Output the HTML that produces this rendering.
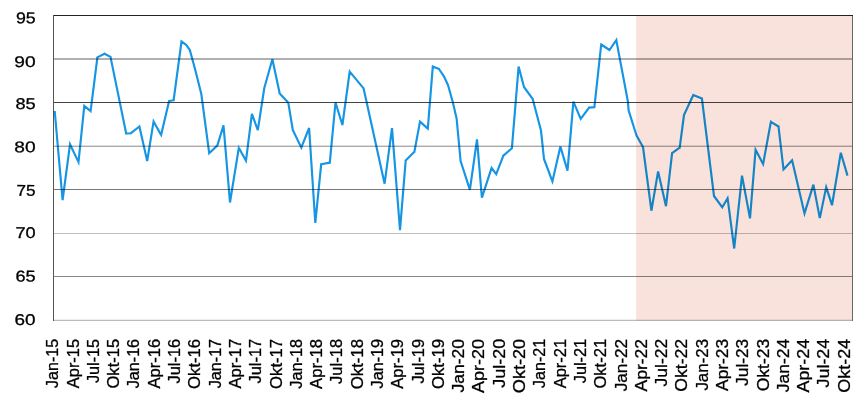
<!DOCTYPE html>
<html><head><meta charset="utf-8"><title>Chart</title>
<style>
html,body{margin:0;padding:0;background:#fff;}
body{width:866px;height:414px;overflow:hidden;font-family:"Liberation Sans",sans-serif;}
svg{display:block;}
text{font-family:"Liberation Sans",sans-serif;fill:#000;stroke:#000;stroke-width:0.3px;}
</style></head><body>
<svg width="866" height="414" viewBox="0 0 866 414">
<rect x="0" y="0" width="866" height="414" fill="#ffffff"/>
<g shape-rendering="crispEdges">
<rect x="53" y="15" width="800" height="1" fill="#222222"/>
<rect x="53" y="58" width="800" height="1" fill="#b0b0b0"/>
<rect x="53" y="59" width="800" height="1" fill="#b0b0b0"/>
<rect x="53" y="102" width="800" height="1" fill="#444444"/>
<rect x="53" y="145" width="800" height="1" fill="#dddddd"/>
<rect x="53" y="146" width="800" height="1" fill="#aaaaaa"/>
<rect x="53" y="189" width="800" height="1" fill="#777777"/>
<rect x="53" y="233" width="800" height="1" fill="#c0c0c0"/>
<rect x="53" y="276" width="800" height="1" fill="#888888"/>
<rect x="53" y="319" width="800" height="1" fill="#eeeeee"/>
<rect x="53" y="320" width="800" height="1" fill="#bbbbbb"/>
<rect x="53" y="15" width="1" height="306" fill="#555555"/>
<rect x="852" y="16" width="1" height="305" fill="#666666"/>
</g>
<path d="M54.7 111.0 L62.6 200.2 L70.0 144.3 L78.5 162.1 L84.3 105.9 L90.6 111.1 L97.4 57.4 L104.5 53.7 L110.5 56.9 L126.2 133.5 L130.6 133.3 L139.4 126.5 L147.2 161.0 L153.6 121.4 L161.1 134.9 L169.1 101.0 L173.6 100.3 L181.5 41.5 L186.2 44.8 L189.9 50.2 L195.3 70.0 L201.3 94.0 L209.2 153.2 L217.4 145.4 L223.5 125.4 L230.0 202.5 L238.8 147.8 L246.0 160.7 L251.9 113.8 L257.8 130.1 L264.3 88.0 L272.4 59.3 L279.7 93.5 L288.3 102.8 L292.8 130.0 L301.3 147.6 L309.1 128.0 L315.3 222.9 L321.2 164.2 L329.8 162.6 L335.5 102.5 L342.4 125.0 L349.7 71.6 L363.6 88.4 L384.6 183.7 L392.0 128.2 L400.0 230.1 L405.7 160.4 L414.4 151.8 L420.0 121.6 L427.8 128.6 L432.8 66.4 L439.0 69.0 L443.6 75.8 L448.0 85.0 L453.0 103.0 L456.6 118.5 L460.6 161.0 L469.9 189.9 L477.0 139.4 L481.9 197.7 L491.6 167.8 L496.2 174.1 L503.4 155.6 L511.9 148.2 L518.6 66.6 L524.0 87.0 L532.6 98.8 L541.0 130.6 L544.0 159.0 L552.4 181.4 L560.4 146.6 L567.5 170.6 L573.4 101.7 L580.7 118.9 L589.1 107.6 L594.4 107.1 L601.2 44.5 L609.5 50.0 L616.3 40.1 L627.9 101.5 L628.6 110.4 L636.5 135.5 L643.0 147.0 L651.4 210.7 L658.1 171.4 L666.0 206.2 L672.1 153.1 L679.7 147.6 L684.0 115.0 L693.3 95.0 L701.9 98.5 L714.0 196.0 L722.3 207.3 L727.6 198.2 L734.2 248.5 L742.0 175.6 L750.0 218.4 L755.6 149.7 L763.1 164.1 L770.9 121.8 L778.5 126.5 L783.5 169.4 L792.1 160.3 L804.5 213.4 L813.4 184.6 L819.8 218.1 L826.2 187.1 L832.0 205.2 L840.8 152.8 L847.5 175.6" fill="none" stroke="#1595e3" stroke-width="2.15" stroke-linejoin="bevel" stroke-linecap="butt" style="mix-blend-mode:multiply"/>
<path d="M70.02 144.28 L68.96 144.14 L69.43 140.54 L70.99 143.82ZM78.50 162.13 L77.53 162.59 L79.18 166.06 L79.57 162.24ZM84.26 105.91 L83.19 105.80 L83.39 103.81 L84.94 105.08ZM90.58 111.13 L89.89 111.96 L91.40 113.20 L91.64 111.26ZM97.41 57.38 L96.35 57.24 L96.42 56.68 L96.92 56.42ZM104.50 53.74 L104.01 52.78 L104.50 52.53 L105.00 52.78ZM110.51 56.87 L111.00 55.92 L111.46 56.15 L111.56 56.65ZM126.21 133.53 L125.15 133.75 L125.34 134.65 L126.25 134.61ZM130.58 133.35 L130.63 134.42 L130.97 134.41 L131.24 134.20ZM139.39 126.48 L138.73 125.63 L140.06 124.59 L140.44 126.24ZM153.58 121.37 L152.52 121.20 L153.01 118.14 L154.52 120.85ZM161.13 134.91 L160.20 135.44 L161.55 137.86 L162.18 135.16ZM169.05 100.97 L168.01 100.72 L168.17 100.01 L168.90 99.90ZM173.61 100.31 L173.76 101.37 L174.56 101.26 L174.67 100.45ZM181.50 41.51 L180.43 41.37 L180.67 39.61 L182.12 40.63ZM186.19 44.81 L186.81 43.93 L186.96 44.04 L187.07 44.20ZM189.89 50.21 L190.77 49.60 L190.88 49.75 L190.92 49.92ZM195.30 70.00 L196.34 69.72 L196.34 69.73 L196.34 69.74ZM201.30 94.00 L202.34 93.74 L202.36 93.80 L202.36 93.86ZM209.23 153.18 L208.16 153.32 L208.44 155.41 L209.97 153.95ZM217.37 145.38 L218.11 146.16 L218.32 145.96 L218.40 145.69ZM238.78 147.78 L237.72 147.61 L238.21 144.54 L239.72 147.26ZM245.95 160.67 L245.01 161.19 L246.60 164.06 L247.02 160.81ZM264.30 88.00 L263.24 87.84 L263.25 87.77 L263.27 87.71ZM279.73 93.48 L278.68 93.71 L278.74 93.99 L278.94 94.21ZM288.26 102.82 L289.05 102.10 L289.27 102.33 L289.32 102.64ZM292.81 130.00 L291.75 130.17 L291.78 130.33 L291.84 130.47ZM301.34 147.60 L300.37 148.07 L301.44 150.27 L302.34 148.00ZM321.20 164.18 L320.13 164.08 L320.21 163.27 L321.01 163.13ZM329.80 162.62 L329.99 163.67 L330.79 163.53 L330.87 162.72ZM349.74 71.55 L348.67 71.41 L349.01 68.97 L350.57 70.87ZM363.57 88.41 L364.40 87.73 L364.57 87.93 L364.62 88.18ZM405.66 160.43 L404.59 160.34 L404.62 159.95 L404.91 159.67ZM414.35 151.78 L415.11 152.54 L415.35 152.30 L415.41 151.97ZM419.96 121.64 L418.90 121.45 L419.25 119.58 L420.67 120.84ZM427.80 128.57 L427.09 129.37 L428.70 130.80 L428.87 128.65ZM432.79 66.45 L431.72 66.36 L431.84 64.88 L433.21 65.46ZM438.97 69.04 L439.39 68.04 L439.68 68.17 L439.86 68.43ZM443.60 75.80 L444.48 75.19 L444.53 75.26 L444.57 75.34ZM448.00 85.00 L448.97 84.54 L449.01 84.62 L449.03 84.71ZM453.00 103.00 L454.04 102.71 L454.04 102.73 L454.05 102.76ZM456.60 118.50 L457.64 118.26 L457.66 118.33 L457.67 118.40ZM460.61 161.00 L459.54 161.10 L459.55 161.22 L459.58 161.33ZM491.61 167.85 L490.58 167.52 L491.22 165.54 L492.47 167.21ZM496.25 174.07 L495.38 174.71 L496.54 176.27 L497.25 174.46ZM503.43 155.62 L502.42 155.23 L502.52 154.98 L502.72 154.81ZM511.92 148.16 L512.63 148.97 L512.96 148.68 L513.00 148.25ZM524.02 86.99 L522.98 87.27 L523.03 87.46 L523.15 87.62ZM532.58 98.81 L533.45 98.18 L533.57 98.34 L533.62 98.53ZM541.00 130.60 L542.04 130.33 L542.06 130.41 L542.07 130.49ZM544.01 159.00 L542.94 159.11 L542.95 159.25 L543.00 159.38ZM552.42 181.35 L551.42 181.73 L552.67 185.07 L553.47 181.59ZM580.73 118.91 L579.74 119.33 L580.48 121.07 L581.59 119.55ZM589.05 107.59 L588.18 106.95 L588.47 106.57 L588.95 106.52ZM594.38 107.08 L594.48 108.15 L595.36 108.07 L595.45 107.20ZM601.22 44.50 L600.15 44.38 L600.34 42.63 L601.81 43.60ZM609.52 49.98 L608.93 50.87 L609.80 51.46 L610.40 50.59ZM616.34 40.08 L615.46 39.47 L616.92 37.35 L617.40 39.88ZM627.90 101.50 L628.95 101.30 L628.97 101.36 L628.97 101.41ZM628.61 110.40 L627.54 110.48 L627.54 110.61 L627.58 110.72ZM636.51 135.50 L635.48 135.82 L635.51 135.93 L635.57 136.02ZM642.98 147.01 L643.92 146.48 L644.02 146.66 L644.05 146.87ZM672.09 153.05 L671.02 152.93 L671.07 152.46 L671.46 152.18ZM679.72 147.55 L680.35 148.42 L680.72 148.15 L680.78 147.69ZM684.01 115.00 L682.95 114.86 L682.97 114.70 L683.04 114.55ZM693.35 94.98 L692.38 94.53 L692.81 93.60 L693.76 93.99ZM701.87 98.50 L702.28 97.51 L702.85 97.75 L702.93 98.37ZM714.03 195.99 L712.97 196.12 L713.00 196.40 L713.17 196.62ZM722.35 207.31 L721.48 207.94 L722.46 209.27 L723.28 207.84ZM727.56 198.24 L726.63 197.70 L728.21 194.95 L728.62 198.09ZM755.56 149.74 L754.49 149.65 L754.79 145.95 L756.51 149.24ZM763.07 164.11 L762.12 164.61 L763.56 167.36 L764.13 164.30ZM770.94 121.76 L769.88 121.56 L770.17 120.02 L771.50 120.85ZM778.50 126.46 L779.07 125.55 L779.51 125.82 L779.57 126.34ZM783.46 169.41 L782.40 169.54 L782.66 171.82 L784.24 170.16ZM792.09 160.35 L791.31 159.60 L792.68 158.16 L793.14 160.10ZM804.51 213.38 L803.46 213.62 L804.36 217.47 L805.53 213.70ZM826.17 187.12 L825.12 186.91 L825.94 182.93 L827.20 186.79Z" fill="#1595e3" stroke="none"/>
<rect x="636.2" y="16" width="215.8" height="304.6" fill="#f9e2dc" style="mix-blend-mode:multiply"/>
<text transform="translate(35.6 23.38) rotate(0.1) scale(1.136 1)" font-size="15.6" text-anchor="end">95</text>
<text transform="translate(35.6 66.93) rotate(0.1) scale(1.228 1)" font-size="15.6" text-anchor="end">90</text>
<text transform="translate(35.6 109.13) rotate(0.1) scale(1.164 1)" font-size="15.6" text-anchor="end">85</text>
<text transform="translate(35.6 152.28) rotate(0.1) scale(1.228 1)" font-size="15.6" text-anchor="end">80</text>
<text transform="translate(35.6 195.68) rotate(0.1) scale(1.095 1)" font-size="15.6" text-anchor="end">75</text>
<text transform="translate(35.6 238.08) rotate(0.1) scale(1.164 1)" font-size="15.6" text-anchor="end">70</text>
<text transform="translate(35.6 281.53) rotate(0.1) scale(1.164 1)" font-size="15.6" text-anchor="end">65</text>
<text transform="translate(35.6 324.98) rotate(0.1) scale(1.211 1)" font-size="15.6" text-anchor="end">60</text>
<text transform="translate(58.25 338.9) rotate(-90)" x="0" y="0" font-size="16" text-anchor="end" textLength="49.0" lengthAdjust="spacingAndGlyphs">Jan-15</text>
<text transform="translate(78.55 338.9) rotate(-90)" x="0" y="0" font-size="16" text-anchor="end" textLength="49.3" lengthAdjust="spacingAndGlyphs">Apr-15</text>
<text transform="translate(98.84 338.9) rotate(-90)" x="0" y="0" font-size="16" text-anchor="end" textLength="44.2" lengthAdjust="spacingAndGlyphs">Jul-15</text>
<text transform="translate(119.14 338.9) rotate(-90)" x="0" y="0" font-size="16" text-anchor="end" textLength="49.6" lengthAdjust="spacingAndGlyphs">Okt-15</text>
<text transform="translate(139.43 338.9) rotate(-90)" x="0" y="0" font-size="16" text-anchor="end" textLength="49.4" lengthAdjust="spacingAndGlyphs">Jan-16</text>
<text transform="translate(159.72 338.9) rotate(-90)" x="0" y="0" font-size="16" text-anchor="end" textLength="49.7" lengthAdjust="spacingAndGlyphs">Apr-16</text>
<text transform="translate(180.02 338.9) rotate(-90)" x="0" y="0" font-size="16" text-anchor="end" textLength="44.6" lengthAdjust="spacingAndGlyphs">Jul-16</text>
<text transform="translate(200.31 338.9) rotate(-90)" x="0" y="0" font-size="16" text-anchor="end" textLength="50.0" lengthAdjust="spacingAndGlyphs">Okt-16</text>
<text transform="translate(220.61 338.9) rotate(-90)" x="0" y="0" font-size="16" text-anchor="end" textLength="49.4" lengthAdjust="spacingAndGlyphs">Jan-17</text>
<text transform="translate(240.91 338.9) rotate(-90)" x="0" y="0" font-size="16" text-anchor="end" textLength="49.7" lengthAdjust="spacingAndGlyphs">Apr-17</text>
<text transform="translate(261.20 338.9) rotate(-90)" x="0" y="0" font-size="16" text-anchor="end" textLength="44.6" lengthAdjust="spacingAndGlyphs">Jul-17</text>
<text transform="translate(281.50 338.9) rotate(-90)" x="0" y="0" font-size="16" text-anchor="end" textLength="50.0" lengthAdjust="spacingAndGlyphs">Okt-17</text>
<text transform="translate(301.79 338.9) rotate(-90)" x="0" y="0" font-size="16" text-anchor="end" textLength="49.8" lengthAdjust="spacingAndGlyphs">Jan-18</text>
<text transform="translate(322.09 338.9) rotate(-90)" x="0" y="0" font-size="16" text-anchor="end" textLength="50.1" lengthAdjust="spacingAndGlyphs">Apr-18</text>
<text transform="translate(342.38 338.9) rotate(-90)" x="0" y="0" font-size="16" text-anchor="end" textLength="45.0" lengthAdjust="spacingAndGlyphs">Jul-18</text>
<text transform="translate(362.68 338.9) rotate(-90)" x="0" y="0" font-size="16" text-anchor="end" textLength="50.4" lengthAdjust="spacingAndGlyphs">Okt-18</text>
<text transform="translate(382.97 338.9) rotate(-90)" x="0" y="0" font-size="16" text-anchor="end" textLength="49.5" lengthAdjust="spacingAndGlyphs">Jan-19</text>
<text transform="translate(403.27 338.9) rotate(-90)" x="0" y="0" font-size="16" text-anchor="end" textLength="49.8" lengthAdjust="spacingAndGlyphs">Apr-19</text>
<text transform="translate(423.56 338.9) rotate(-90)" x="0" y="0" font-size="16" text-anchor="end" textLength="44.7" lengthAdjust="spacingAndGlyphs">Jul-19</text>
<text transform="translate(443.86 338.9) rotate(-90)" x="0" y="0" font-size="16" text-anchor="end" textLength="50.1" lengthAdjust="spacingAndGlyphs">Okt-19</text>
<text transform="translate(464.15 338.9) rotate(-90)" x="0" y="0" font-size="16" text-anchor="end" textLength="53.7" lengthAdjust="spacingAndGlyphs">Jan-20</text>
<text transform="translate(484.45 338.9) rotate(-90)" x="0" y="0" font-size="16" text-anchor="end" textLength="54.0" lengthAdjust="spacingAndGlyphs">Apr-20</text>
<text transform="translate(504.74 338.9) rotate(-90)" x="0" y="0" font-size="16" text-anchor="end" textLength="48.9" lengthAdjust="spacingAndGlyphs">Jul-20</text>
<text transform="translate(525.04 338.9) rotate(-90)" x="0" y="0" font-size="16" text-anchor="end" textLength="54.3" lengthAdjust="spacingAndGlyphs">Okt-20</text>
<text transform="translate(545.33 338.9) rotate(-90)" x="0" y="0" font-size="16" text-anchor="end" textLength="49.1" lengthAdjust="spacingAndGlyphs">Jan-21</text>
<text transform="translate(565.63 338.9) rotate(-90)" x="0" y="0" font-size="16" text-anchor="end" textLength="49.4" lengthAdjust="spacingAndGlyphs">Apr-21</text>
<text transform="translate(585.92 338.9) rotate(-90)" x="0" y="0" font-size="16" text-anchor="end" textLength="44.3" lengthAdjust="spacingAndGlyphs">Jul-21</text>
<text transform="translate(606.22 338.9) rotate(-90)" x="0" y="0" font-size="16" text-anchor="end" textLength="49.7" lengthAdjust="spacingAndGlyphs">Okt-21</text>
<text transform="translate(626.51 338.9) rotate(-90)" x="0" y="0" font-size="16" text-anchor="end" textLength="52.3" lengthAdjust="spacingAndGlyphs">Jan-22</text>
<text transform="translate(646.81 338.9) rotate(-90)" x="0" y="0" font-size="16" text-anchor="end" textLength="52.6" lengthAdjust="spacingAndGlyphs">Apr-22</text>
<text transform="translate(667.10 338.9) rotate(-90)" x="0" y="0" font-size="16" text-anchor="end" textLength="47.5" lengthAdjust="spacingAndGlyphs">Jul-22</text>
<text transform="translate(687.40 338.9) rotate(-90)" x="0" y="0" font-size="16" text-anchor="end" textLength="52.9" lengthAdjust="spacingAndGlyphs">Okt-22</text>
<text transform="translate(707.69 338.9) rotate(-90)" x="0" y="0" font-size="16" text-anchor="end" textLength="51.7" lengthAdjust="spacingAndGlyphs">Jan-23</text>
<text transform="translate(727.99 338.9) rotate(-90)" x="0" y="0" font-size="16" text-anchor="end" textLength="52.0" lengthAdjust="spacingAndGlyphs">Apr-23</text>
<text transform="translate(748.28 338.9) rotate(-90)" x="0" y="0" font-size="16" text-anchor="end" textLength="46.9" lengthAdjust="spacingAndGlyphs">Jul-23</text>
<text transform="translate(768.58 338.9) rotate(-90)" x="0" y="0" font-size="16" text-anchor="end" textLength="52.3" lengthAdjust="spacingAndGlyphs">Okt-23</text>
<text transform="translate(788.87 338.9) rotate(-90)" x="0" y="0" font-size="16" text-anchor="end" textLength="53.3" lengthAdjust="spacingAndGlyphs">Jan-24</text>
<text transform="translate(809.17 338.9) rotate(-90)" x="0" y="0" font-size="16" text-anchor="end" textLength="53.6" lengthAdjust="spacingAndGlyphs">Apr-24</text>
<text transform="translate(829.46 338.9) rotate(-90)" x="0" y="0" font-size="16" text-anchor="end" textLength="48.5" lengthAdjust="spacingAndGlyphs">Jul-24</text>
<text transform="translate(849.76 338.9) rotate(-90)" x="0" y="0" font-size="16" text-anchor="end" textLength="53.9" lengthAdjust="spacingAndGlyphs">Okt-24</text>
</svg>
</body></html>
